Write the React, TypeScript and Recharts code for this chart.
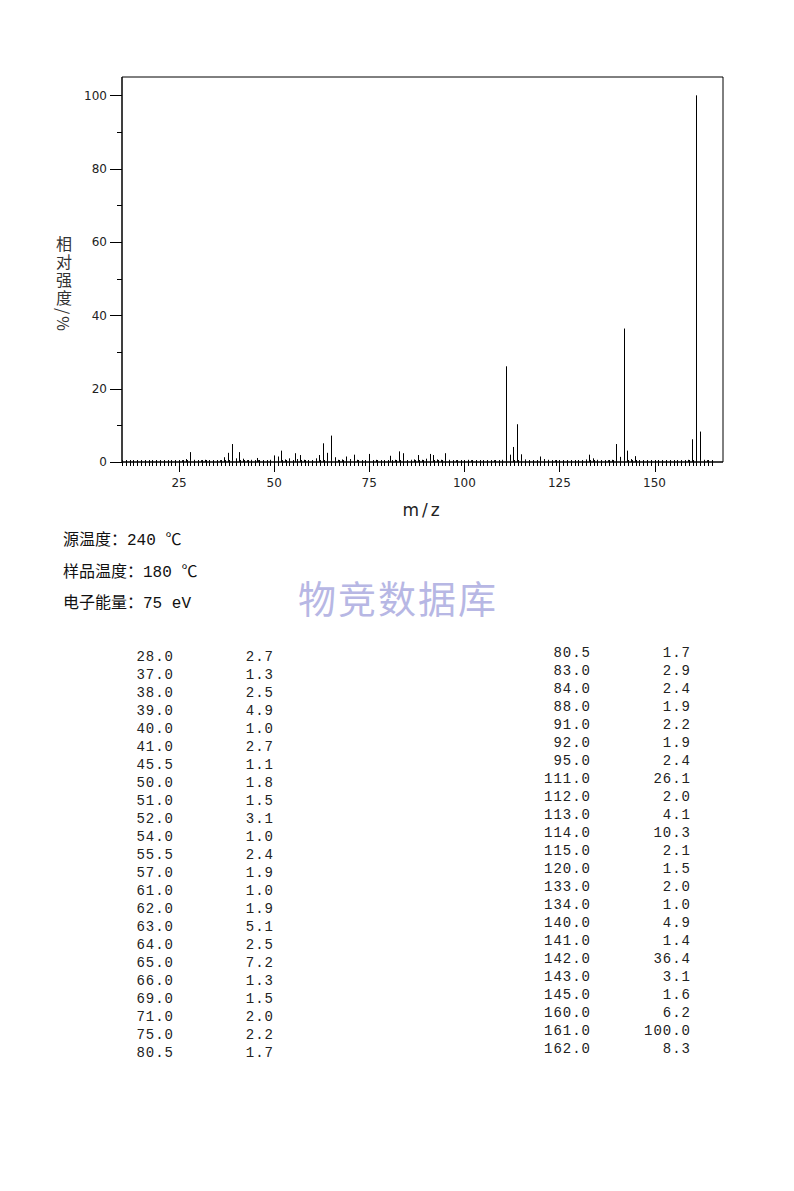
import React from 'react';
import { BarChart, Bar, XAxis, YAxis, ReferenceArea } from 'recharts';

// peaks listed in the table (>= 1%)
const peakMz = [
  28.0, 37.0, 38.0, 39.0, 40.0, 41.0, 45.5, 50.0, 51.0, 52.0, 54.0, 55.5, 57.0, 61.0, 62.0, 63.0,
  64.0, 65.0, 66.0, 69.0, 71.0, 75.0, 80.5, 83.0, 84.0, 88.0, 91.0, 92.0, 95.0, 111.0, 112.0,
  113.0, 114.0, 115.0, 120.0, 133.0, 134.0, 140.0, 141.0, 142.0, 143.0, 145.0, 160.0, 161.0, 162.0,
];
const peakIntensity = [
  2.7, 1.3, 2.5, 4.9, 1.0, 2.7, 1.1, 1.8, 1.5, 3.1, 1.0, 2.4, 1.9, 1.0, 1.9, 5.1,
  2.5, 7.2, 1.3, 1.5, 2.0, 2.2, 1.7, 2.9, 2.4, 1.9, 2.2, 1.9, 2.4, 26.1, 2.0,
  4.1, 10.3, 2.1, 1.5, 2.0, 1.0, 4.9, 1.4, 36.4, 3.1, 1.6, 6.2, 100.0, 8.3,
];

// small peaks seen in the spectrum but not in the table (estimated)
const minorMz = [
  15, 18, 20, 26, 27, 29, 31, 32, 36, 42, 43, 44, 46, 49, 53, 56, 58, 60, 67, 68, 70, 72, 74,
  76, 77, 79, 82, 85, 86, 87, 89, 90, 93, 94, 96, 98, 101, 102, 106, 108, 110, 116, 121, 122,
  124, 127, 131, 132, 135, 138, 139, 144, 146, 152, 158, 159, 163, 164,
];
const minorIntensity = [
  0.4, 0.5, 0.4, 0.5, 0.8, 0.6, 0.5, 0.6, 0.5, 0.9, 0.5, 0.6, 0.5, 0.6, 0.7, 0.8, 0.6, 0.5, 0.6,
  0.7, 0.8, 0.6, 0.5, 0.5, 0.6, 0.5, 0.6, 0.5, 0.6, 0.7, 0.6, 0.9, 0.7, 0.6, 0.6, 0.5, 0.6, 0.5,
  0.5, 0.5, 0.6, 0.7, 0.8, 0.6, 0.5, 0.5, 0.5, 0.7, 0.6, 0.5, 0.6, 0.8, 0.5, 0.4, 0.5, 0.6, 0.6, 0.5,
];

const xTickLabels = [25, 50, 75, 100, 125, 150];
const yTickValues = [0, 10, 20, 30, 40, 50, 60, 70, 80, 90, 100];
const yTickLabels = [0, 20, 40, 60, 80, 100];
const xMin = 10;
const xMax = 168;
const yMax = 105;

const yAxisTitle = '相对强度/%';
const conditions = ['源温度：240 ℃', '样品温度：180 ℃', '电子能量：75 eV'];

const spectrum = [
  ...peakMz.map((mz, i) => ({ mz, intensity: peakIntensity[i] })),
  ...minorMz.map((mz, i) => ({ mz, intensity: minorIntensity[i] })),
].sort((a, b) => a.mz - b.mz);

const xTicks: number[] = [];
for (let v = xMin; v <= 165; v++) xTicks.push(v);

const leftRows = peakMz.slice(0, 23).map((mz, i) => [mz, peakIntensity[i]]);
const rightRows = peakMz.slice(22).map((mz, i) => [mz, peakIntensity[i + 22]]);

const tickFont = "'DejaVu Sans', sans-serif";

function XTick(props: any) {
  const { x, y, payload } = props;
  const major = xTickLabels.includes(payload.value);
  const px = Math.round(x) + 0.5;
  return (
    <g>
      <line x1={px} x2={px} y1={y - 2} y2={y + (major ? 10 : 4)} stroke="#000" strokeWidth={1} />
      {major && (
        <text x={x} y={y + 25} textAnchor="middle" fontSize={12} fontFamily={tickFont} fill="#222">
          {payload.value}
        </text>
      )}
    </g>
  );
}

function YTick(props: any) {
  const { x, y, payload } = props;
  const major = yTickLabels.includes(payload.value);
  const py = Math.round(y) + 0.5;
  return (
    <g>
      <line x1={x - (major ? 12 : 5)} x2={x} y1={py} y2={py} stroke="#000" strokeWidth={1} />
      {major && (
        <text x={x - 15} y={y} dy="0.36em" textAnchor="end" fontSize={12} fontFamily={tickFont} fill="#222">
          {payload.value}
        </text>
      )}
    </g>
  );
}

function PeakLine(props: any) {
  const { x, y, width, height } = props;
  if (!height) return null;
  return <rect x={Math.round(x + width / 2)} y={y} width={1} height={height} fill="#000" />;
}

const monoText: React.CSSProperties = {
  position: 'absolute',
  fontFamily: "'Liberation Mono', monospace",
  fontSize: 14,
  letterSpacing: 1,
  lineHeight: '18px',
  color: '#222',
  textAlign: 'right',
  width: 80,
};

function TableColumn({ rows, left, top }: { rows: number[][]; left: number; top: number }) {
  return (
    <>
      <div style={{ ...monoText, left: left, top }}>
        {rows.map((r, i) => (
          <div key={i}>{r[0].toFixed(1)}</div>
        ))}
      </div>
      <div style={{ ...monoText, left: left + 100, top }}>
        {rows.map((r, i) => (
          <div key={i}>{r[1].toFixed(1)}</div>
        ))}
      </div>
    </>
  );
}

export default function App() {
  return (
    <div style={{ position: 'absolute', left: 0, top: 0, width: 794, height: 1191, background: '#fff' }}>
      <div style={{ position: 'absolute', left: 0, top: 0 }}>
        <BarChart
          width={794}
          height={530}
          data={spectrum}
          margin={{ top: 77, right: 71, left: 62, bottom: 8 }}
          barSize={1}
        >
          <ReferenceArea x1={xMin} x2={xMax} y1={0} y2={yMax} fill="none" stroke="#000" strokeWidth={1} ifOverflow="visible" />
          <XAxis
            dataKey="mz"
            type="number"
            domain={[xMin, xMax]}
            ticks={xTicks}
            interval={0}
            height={60}
            tickSize={0}
            tickMargin={0}
            tickLine={false}
            tick={<XTick />}
            axisLine={{ stroke: '#000' }}
            label={{ value: 'm/z', position: 'insideBottom', offset: 6, fontSize: 17, letterSpacing: 3, fill: '#222', fontFamily: tickFont }}
          />
          <YAxis
            type="number"
            domain={[0, yMax]}
            ticks={yTickValues}
            interval={0}
            width={60}
            tickSize={0}
            tickMargin={0}
            tickLine={false}
            tick={<YTick />}
            axisLine={{ stroke: '#000' }}
          />
          <Bar dataKey="intensity" fill="#000" isAnimationActive={false} shape={<PeakLine />} />
        </BarChart>
      </div>

      {/* vertical y-axis title */}
      <div
        style={{
          position: 'absolute',
          left: 56,
          top: 236,
          writingMode: 'vertical-rl',
          fontFamily: "'Noto Sans CJK SC', sans-serif",
          fontSize: 16,
          lineHeight: '16px',
          letterSpacing: 2,
          color: '#333',
        }}
      >
        {yAxisTitle}
      </div>

      {conditions.map((t, i) => (
        <div
          key={t}
          style={{
            position: 'absolute',
            left: 63,
            top: 531 + i * 31.5,
            fontFamily: "'Liberation Mono', 'Noto Sans CJK SC', monospace",
            fontSize: 16,
            lineHeight: '20px',
            color: '#111',
            whiteSpace: 'pre',
          }}
        >
          {t}
        </div>
      ))}

      <div
        style={{
          position: 'absolute',
          left: 298,
          top: 575,
          fontFamily: "'Noto Sans CJK SC', sans-serif",
          fontSize: 38,
          lineHeight: '44px',
          letterSpacing: 2,
          color: '#b7b7e4',
        }}
      >
        物竞数据库
      </div>

      <TableColumn rows={leftRows} left={94} top={648} />
      <TableColumn rows={rightRows} left={511} top={644} />
    </div>
  );
}
